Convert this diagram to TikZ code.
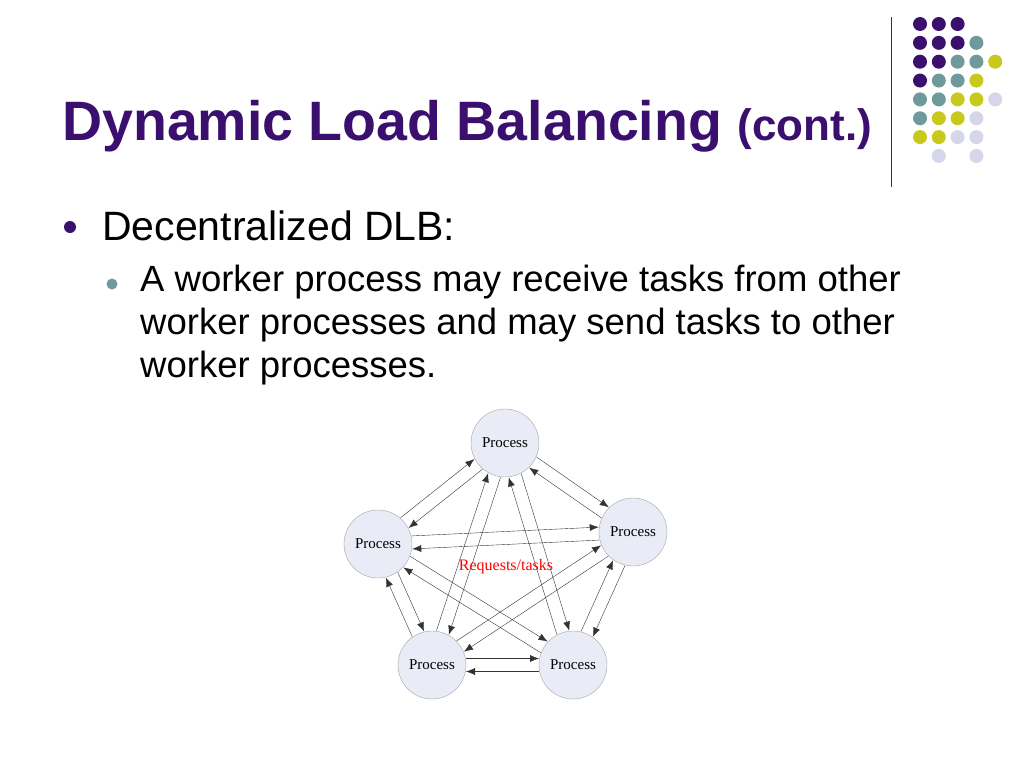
\documentclass[tikz,border=0pt]{standalone}
\usepackage{fontspec}
\setmainfont{Liberation Sans}
\newfontfamily\serifpf{Liberation Serif}
\usetikzlibrary{calc,arrows.meta}
\definecolor{pur}{HTML}{3A0F6E}
\definecolor{teal}{HTML}{6F9A9B}
\definecolor{yel}{HTML}{C9C81C}
\definecolor{lav}{HTML}{D6D6EA}
\definecolor{nodefill}{HTML}{E9EBF6}
\tikzset{
 proc/.style={circle,draw=gray!70,fill=nodefill,minimum size=68pt,inner sep=0pt,font=\serifpf\fontsize{15}{15}\selectfont},
 arr/.style={-{Latex[length=9pt,width=7pt]},draw=black!80,line width=0.4pt,shorten >=34pt,shorten <=34pt},
 dot/.style={circle,inner sep=0pt,minimum size=14pt}
}
\newcommand{\pairarrows}[2]{%
 \draw[arr] ($(#1)!6.5pt!90:(#2)$) -- ($(#2)!6.5pt!-90:(#1)$);
 \draw[arr] ($(#2)!6.5pt!90:(#1)$) -- ($(#1)!6.5pt!-90:(#2)$);}
\begin{document}
\begin{tikzpicture}[x=1pt,y=-1pt]
\useasboundingbox (0,0) rectangle (1024,768);
\fill[white] (0,0) rectangle (1024,768);
\node[anchor=base west,inner sep=0pt,text=pur,font=\bfseries\fontsize{55.5}{55}\selectfont] (title) at (62,140) {Dynamic Load Balancing {\fontsize{44}{44}\selectfont (cont.)}};
\draw[black!80,line width=1pt] (891,17) coordinate (l1) -- (891,187) coordinate (l2);
\foreach \r/\cols in {0/{1/pur,2/pur,3/pur},1/{1/pur,2/pur,3/pur,4/teal},2/{1/pur,2/pur,3/teal,4/teal,5/yel},3/{1/pur,2/teal,3/teal,4/yel},4/{1/teal,2/teal,3/yel,4/yel,5/lav},5/{1/teal,2/yel,3/yel,4/lav},6/{1/yel,2/yel,3/lav,4/lav},7/{2/lav,4/lav}}{
 \foreach \c/\col in \cols {\node[dot,fill=\col] (d\r\c) at ({920+18.8*(\c-1)},{24+18.85*\r}) {};}}
\fill[pur] (70,227) circle (6pt);
\node[anchor=base west,inner sep=0pt,font=\fontsize{41}{41}\selectfont] (b1) at (102,240) {Decentralized DLB:};
\fill[teal] (112,284) circle (5.5pt);
\node[anchor=north west,inner sep=0pt,align=left,font=\fontsize{36.5}{43}\selectfont] (b2) at (140,265) {A worker process may receive tasks from other\\worker processes and may send tasks to other\\worker processes.};
\node[proc] (T) at (505,443) {Process};
\node[proc] (L) at (378,544) {Process};
\node[proc] (R) at (633,532) {Process};
\node[proc] (BL) at (432,665) {Process};
\node[proc] (BR) at (573,665) {Process};
\pairarrows{T}{L}
\pairarrows{T}{R}
\pairarrows{T}{BL}
\pairarrows{T}{BR}
\pairarrows{L}{R}
\pairarrows{L}{BL}
\pairarrows{L}{BR}
\pairarrows{R}{BL}
\pairarrows{R}{BR}
\pairarrows{BL}{BR}
\node[text=red,font=\serifpf\fontsize{16}{16}\selectfont] (lab) at (506,567) {Requests/tasks};
\end{tikzpicture}
\end{document}
